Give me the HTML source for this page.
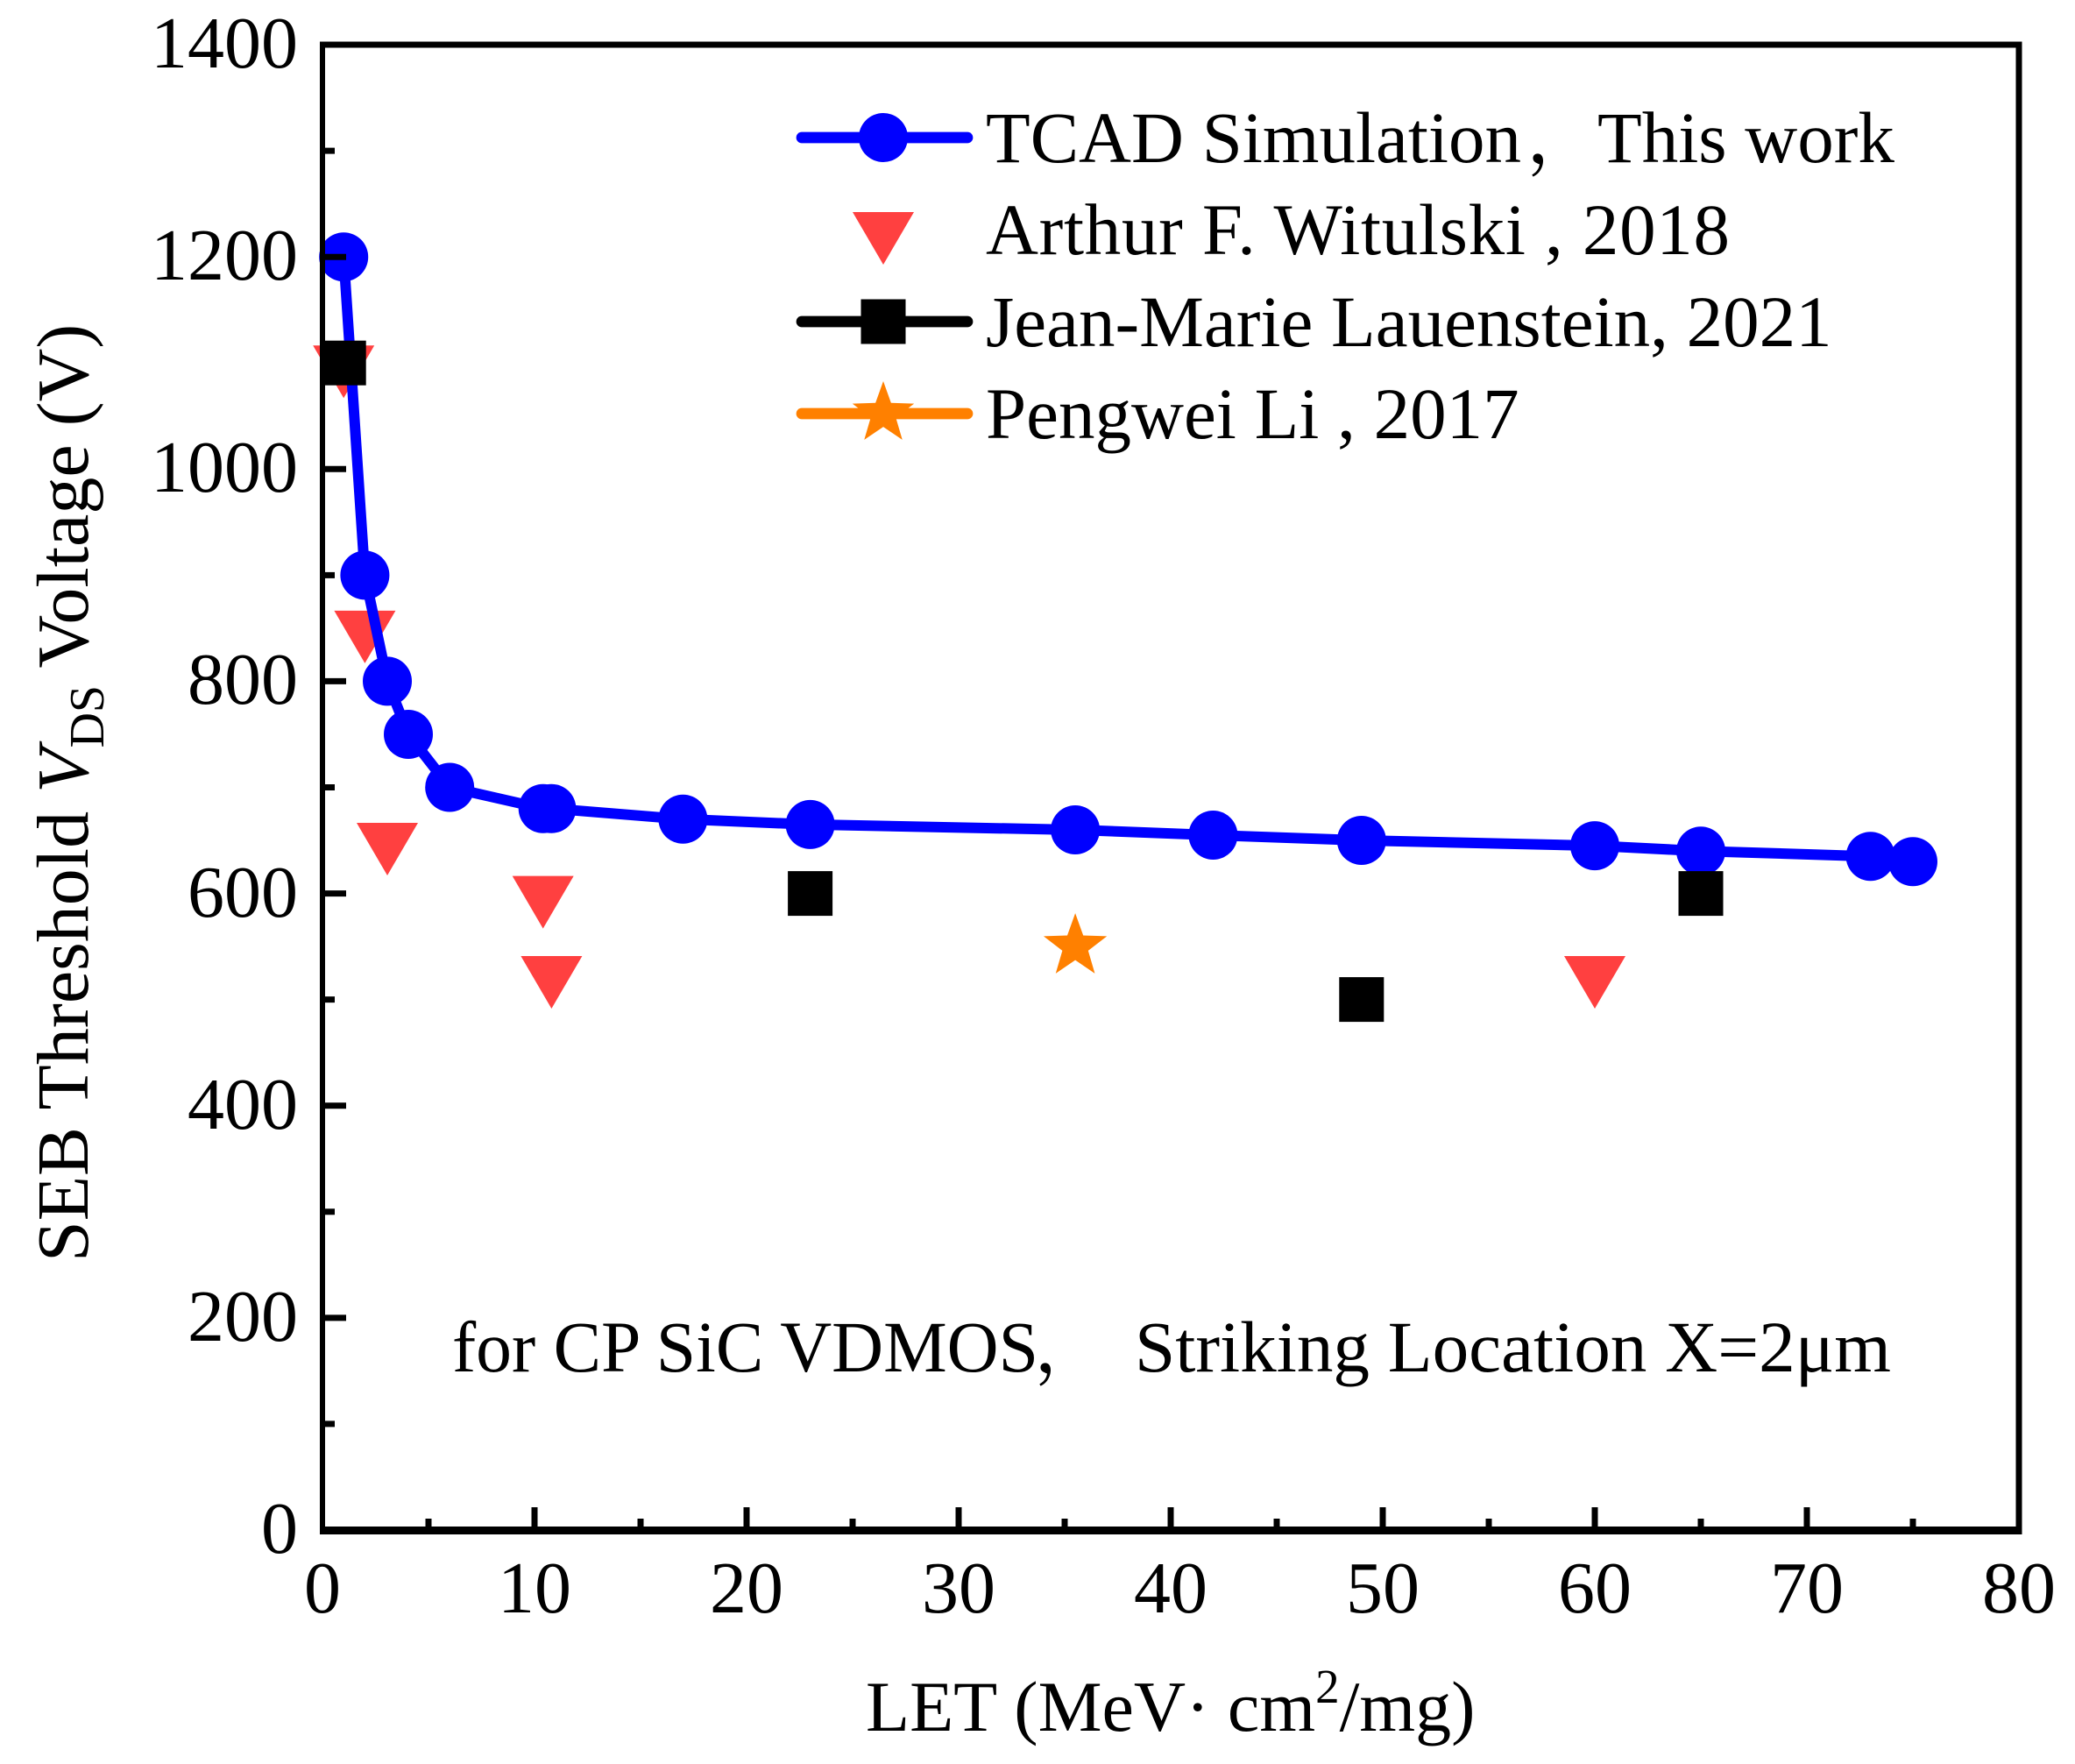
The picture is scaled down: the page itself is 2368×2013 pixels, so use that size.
<!DOCTYPE html>
<html>
<head>
<meta charset="utf-8">
<style>
  html, body { margin: 0; padding: 0; background: #ffffff; }
  svg { display: block; }
  text { font-family: "Liberation Serif", "Noto Serif CJK SC", serif; fill: #000; }
</style>
</head>
<body>
<svg width="2368" height="2013" viewBox="0 0 2368 2013" xmlns="http://www.w3.org/2000/svg">
  <rect x="0" y="0" width="2368" height="2013" fill="#ffffff"/>

  <!-- Red triangles (Witulski 2018) -->
  <g fill="#FF4040">
    <polygon points="357.2,394.2 427.2,394.2 392.2,454.2"/>
    <polygon points="381.4,696.9 451.4,696.9 416.4,756.9"/>
    <polygon points="407,939 477,939 442,999"/>
    <polygon points="584.7,999.6 654.7,999.6 619.7,1059.6"/>
    <polygon points="594.4,1091 664.4,1091 629.4,1151"/>
    <polygon points="1785,1091 1855,1091 1820,1151"/>
  </g>

  <!-- Blue TCAD line -->
  <polyline fill="none" stroke="#0000FF" stroke-width="12" stroke-linejoin="round" stroke-linecap="round"
    points="392.2,293.2 416.4,656.4 442,777.4 466,838 513.2,898.5 619.7,922.7 629.4,922.7 779.4,934.8 924.6,940.9 1227.1,947 1384.4,953 1553.8,959 1820,965.1 1941,971.2 2134.6,977.2 2183,983.3"/>
  <g fill="#0000FF">
    <circle cx="392.2" cy="293.2" r="28"/>
    <circle cx="416.4" cy="656.4" r="28"/>
    <circle cx="442" cy="777.4" r="28"/>
    <circle cx="466" cy="838" r="28"/>
    <circle cx="513.2" cy="898.5" r="28"/>
    <circle cx="619.7" cy="922.7" r="28"/>
    <circle cx="629.4" cy="922.7" r="28"/>
    <circle cx="779.4" cy="934.8" r="28"/>
    <circle cx="924.6" cy="940.9" r="28"/>
    <circle cx="1227.1" cy="947" r="28"/>
    <circle cx="1384.4" cy="953" r="28"/>
    <circle cx="1553.8" cy="959" r="28"/>
    <circle cx="1820" cy="965.1" r="28"/>
    <circle cx="1941" cy="971.2" r="28"/>
    <circle cx="2134.6" cy="977.2" r="28"/>
    <circle cx="2183" cy="983.3" r="28"/>
  </g>

  <!-- Black squares (Lauenstein 2021) -->
  <g fill="#000000">
    <rect x="366.7" y="388.7" width="51" height="51"/>
    <rect x="899.1" y="994.1" width="51" height="51"/>
    <rect x="1528.3" y="1115.1" width="51" height="51"/>
    <rect x="1915.5" y="994.1" width="51" height="51"/>
  </g>

  <!-- Orange star (Li 2017) -->
  <polygon fill="#FF8000" transform="translate(1227.1,1080.1)"
    points="0,-38 9.11,-12.54 36.14,-11.74 14.74,4.79 22.34,30.74 0,15.5 -22.34,30.74 -14.74,4.79 -36.14,-11.74 -9.11,-12.54"/>

  <!-- Axes frame -->
  <g fill="#000000">
    <rect x="365" y="47.5" width="6" height="1703.5"/>
    <rect x="365" y="47.5" width="1942.5" height="7"/>
    <rect x="2300.5" y="47.5" width="7" height="1703.5"/>
    <rect x="365" y="1742" width="1942.5" height="9"/>
  </g>

  <!-- Y ticks -->
  <g stroke="#000" stroke-width="7">
    <line x1="371" y1="1746" x2="395" y2="1746"/>
    <line x1="371" y1="1503.9" x2="395" y2="1503.9"/>
    <line x1="371" y1="1261.7" x2="395" y2="1261.7"/>
    <line x1="371" y1="1019.6" x2="395" y2="1019.6"/>
    <line x1="371" y1="777.4" x2="395" y2="777.4"/>
    <line x1="371" y1="535.3" x2="395" y2="535.3"/>
    <line x1="371" y1="293.2" x2="395" y2="293.2"/>
    <line x1="371" y1="1624.9" x2="382" y2="1624.9"/>
    <line x1="371" y1="1382.8" x2="382" y2="1382.8"/>
    <line x1="371" y1="1140.65" x2="382" y2="1140.65"/>
    <line x1="371" y1="898.5" x2="382" y2="898.5"/>
    <line x1="371" y1="656.4" x2="382" y2="656.4"/>
    <line x1="371" y1="414.2" x2="382" y2="414.2"/>
    <line x1="371" y1="172.1" x2="382" y2="172.1"/>
  </g>

  <!-- X ticks -->
  <g stroke="#000" stroke-width="7">
    <line x1="610" y1="1742" x2="610" y2="1720"/>
    <line x1="852" y1="1742" x2="852" y2="1720"/>
    <line x1="1094" y1="1742" x2="1094" y2="1720"/>
    <line x1="1336" y1="1742" x2="1336" y2="1720"/>
    <line x1="1578" y1="1742" x2="1578" y2="1720"/>
    <line x1="1820" y1="1742" x2="1820" y2="1720"/>
    <line x1="2062" y1="1742" x2="2062" y2="1720"/>
    <line x1="489" y1="1742" x2="489" y2="1733"/>
    <line x1="731" y1="1742" x2="731" y2="1733"/>
    <line x1="973" y1="1742" x2="973" y2="1733"/>
    <line x1="1215" y1="1742" x2="1215" y2="1733"/>
    <line x1="1457" y1="1742" x2="1457" y2="1733"/>
    <line x1="1699" y1="1742" x2="1699" y2="1733"/>
    <line x1="1941" y1="1742" x2="1941" y2="1733"/>
    <line x1="2183" y1="1742" x2="2183" y2="1733"/>
  </g>

  <!-- Y tick labels -->
  <g font-size="84" text-anchor="end">
    <text x="340" y="1772">0</text>
    <text x="340" y="1530">200</text>
    <text x="340" y="1288">400</text>
    <text x="340" y="1046">600</text>
    <text x="340" y="803">800</text>
    <text x="340" y="561">1000</text>
    <text x="340" y="319">1200</text>
    <text x="340" y="77">1400</text>
  </g>

  <!-- X tick labels -->
  <g font-size="84" text-anchor="middle">
    <text x="368" y="1840">0</text>
    <text x="610" y="1840">10</text>
    <text x="852" y="1840">20</text>
    <text x="1094" y="1840">30</text>
    <text x="1336" y="1840">40</text>
    <text x="1578" y="1840">50</text>
    <text x="1820" y="1840">60</text>
    <text x="2062" y="1840">70</text>
    <text x="2304" y="1840">80</text>
  </g>

  <!-- X axis title -->
  <text x="988" y="1975" font-size="82">LET (MeV· cm<tspan font-size="55" dy="-32">2</tspan><tspan dy="32">/mg)</tspan></text>

  <!-- Y axis title -->
  <g transform="translate(100,1440) rotate(-90)">
    <text x="0" y="0" font-size="84">SEB Threshold <tspan font-style="italic">V</tspan><tspan font-size="56" dy="18">DS</tspan><tspan dy="-18"> Voltage (V)</tspan></text>
  </g>

  <!-- Legend -->
  <line x1="915" y1="157" x2="1104" y2="157" stroke="#0000FF" stroke-width="12.7" stroke-linecap="round"/>
  <circle cx="1008" cy="157" r="28" fill="#0000FF"/>
  <polygon points="973,242 1043,242 1008,302" fill="#FF4040"/>
  <line x1="915" y1="367" x2="1104" y2="367" stroke="#000000" stroke-width="12.7" stroke-linecap="round"/>
  <rect x="982.5" y="341.5" width="51" height="51" fill="#000000"/>
  <line x1="915" y1="472" x2="1104" y2="472" stroke="#FF8000" stroke-width="12.7" stroke-linecap="round"/>
  <polygon fill="#FF8000" transform="translate(1008,472)"
    points="0,-37 8.87,-12.21 35.19,-11.43 14.35,4.66 21.75,29.93 0,15.1 -21.75,29.93 -14.35,4.66 -35.19,-11.43 -8.87,-12.21"/>

  <g font-size="83">
    <text x="1125" y="185">TCAD Simulation</text>
    <text x="1742" y="185">，</text>
    <text x="1823" y="185">This work</text>
    <text x="1125" y="290" textLength="849" lengthAdjust="spacing">Arthur F. Witulski , 2018</text>
    <text x="1125" y="395">Jean-Marie Lauenstein, 2021</text>
    <text x="1125" y="500">Pengwei Li , 2017</text>
  </g>

  <!-- Annotation -->
  <g font-size="83">
    <text x="516" y="1565" textLength="669" lengthAdjust="spacingAndGlyphs">for CP SiC VDMOS</text>
    <text x="1180" y="1565">，</text>
    <text x="1295" y="1565" textLength="863" lengthAdjust="spacingAndGlyphs">Striking Location X=2μm</text>
  </g>
</svg>
</body>
</html>
